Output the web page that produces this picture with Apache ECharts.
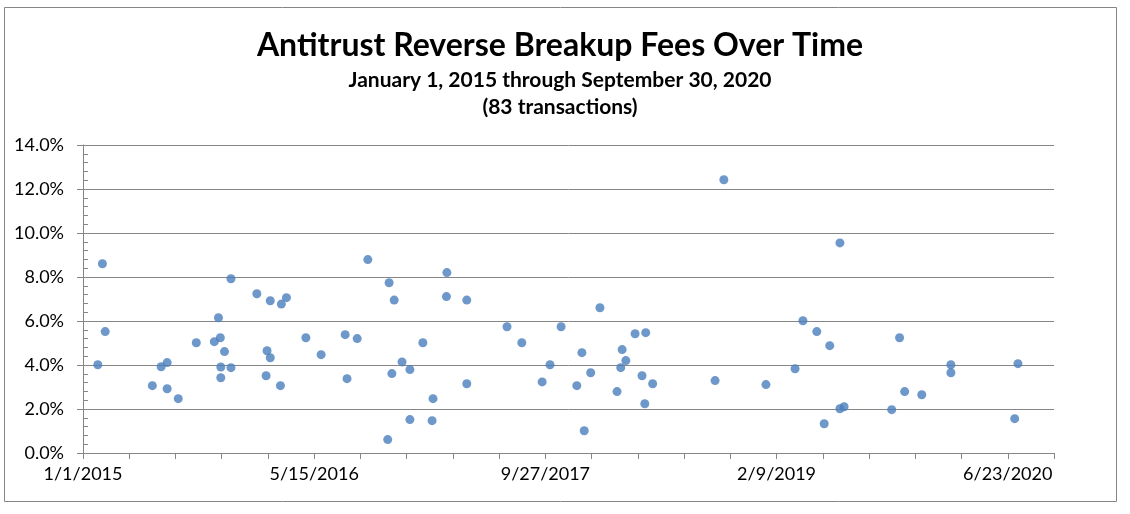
<!DOCTYPE html>
<html>
<head>
<meta charset="utf-8">
<script src="https://cdn.jsdelivr.net/npm/echarts@6/dist/echarts.min.js"></script>
<style>html,body{margin:0;padding:0;background:#fff}#c{width:1130px;height:514px}</style>
</head>
<body>
<div id="c"></div>
<script>
// Days since 1/1/2015 for each transaction's announcement date
const baseDate = Date.UTC(2015, 0, 1);
const dealDayOffsets = [32,42,48,150,169,182,182,206,245,284,293,297,306,298,298,320,320,376,398,405,396,405,427,429,440,482,515,567,571,593,616,662,673,659,668,690,707,707,735,755,757,787,786,830,830,917,949,993,1010,1034,1068,1079,1084,1098,1118,1155,1163,1166,1174,1194,1209,1215,1217,1232,1367,1386,1477,1540,1557,1587,1603,1615,1637,1637,1646,1749,1766,1777,1814,1877,1877,2015,2022];
// Antitrust reverse breakup fee (% of deal value)
const feePercent = [4.01,8.6,5.52,3.06,3.92,4.11,2.92,2.47,5.01,5.06,6.15,5.24,4.61,3.91,3.42,3.88,7.92,7.24,4.65,4.33,3.51,6.92,3.06,6.77,7.06,5.24,4.47,5.38,3.38,5.2,8.79,7.74,6.95,0.61,3.61,4.14,3.79,1.52,5.01,1.47,2.47,8.2,7.11,6.95,3.15,5.74,5.01,3.23,4.01,5.74,3.06,4.56,1.01,3.65,6.6,2.79,3.88,4.7,4.2,5.42,3.51,2.24,5.47,3.15,3.29,12.42,3.11,3.83,6.01,5.52,1.33,4.88,9.55,2.01,2.1,1.97,5.24,2.79,2.65,4.01,3.65,1.56,4.06];
const xTickLabelDays = [0, 500, 1000, 1500, 2000];
const titleText = 'Antitrust Reverse Breakup Fees Over Time';
const subtitleText = 'January 1, 2015 through September 30, 2020';
const countText = '(83 transactions)';

const points = dealDayOffsets.map((d, i) => [d, feePercent[i]]);
function fmtDate(d) {
  const dt = new Date(baseDate + d * 86400000);
  return (dt.getUTCMonth() + 1) + '/' + dt.getUTCDate() + '/' + dt.getUTCFullYear();
}
const FONT = 'Lato';
const GRAY = '#868686';
const chart = echarts.init(document.getElementById('c'), null, {renderer: 'canvas'});
chart.setOption({
  animation: false,
  backgroundColor: '#fff',
  textStyle: {fontFamily: FONT},
  grid: {left: 83, right: 76, top: 145, bottom: 61},
  graphic: [
    {type: 'rect', shape: {x: 4.5, y: 7.5, width: 1112, height: 494}, style: {fill: 'none', stroke: GRAY, lineWidth: 1}, silent: true},
    {type: 'text', x: 560, y: 46, style: {text: titleText, font: 'bold 32px ' + FONT, fill: '#000', align: 'center', verticalAlign: 'middle'}},
    {type: 'text', x: 560, y: 80, style: {text: subtitleText, font: 'bold 21px ' + FONT, fill: '#000', align: 'center', verticalAlign: 'middle'}},
    {type: 'text', x: 560, y: 107, style: {text: countText, font: 'bold 21px ' + FONT, fill: '#000', align: 'center', verticalAlign: 'middle'}}
  ],
  xAxis: {
    type: 'value', min: 0, max: 2100, interval: 100,
    axisLine: {show: true, lineStyle: {color: GRAY}},
    axisTick: {show: true, length: 6, lineStyle: {color: GRAY}},
    splitLine: {show: false},
    axisLabel: {
      margin: 12, fontSize: 18, color: '#000', fontFamily: FONT,
      formatter: v => xTickLabelDays.indexOf(v) >= 0 ? fmtDate(v) : ''
    }
  },
  yAxis: [
    {
      type: 'value', min: 0, max: 14, interval: 2,
      axisLine: {show: true, lineStyle: {color: GRAY}},
      axisTick: {show: true, length: 6, lineStyle: {color: GRAY}},
      splitLine: {show: true, lineStyle: {color: GRAY, width: 1}},
      axisLabel: {margin: 19, fontSize: 18, color: '#000', fontFamily: FONT, formatter: v => v.toFixed(1) + '%'}
    },
    {
      type: 'value', min: 0, max: 14, interval: 0.4, position: 'left',
      axisLine: {show: false},
      axisTick: {show: true, inside: true, length: 5, lineStyle: {color: GRAY}},
      splitLine: {show: false},
      axisLabel: {show: false}
    }
  ],
  series: [{
    type: 'scatter', yAxisIndex: 0, data: points,
    symbol: 'circle', symbolSize: 9,
    itemStyle: {color: '#4a7ebb'}
  }]
});
</script>
</body>
</html>
